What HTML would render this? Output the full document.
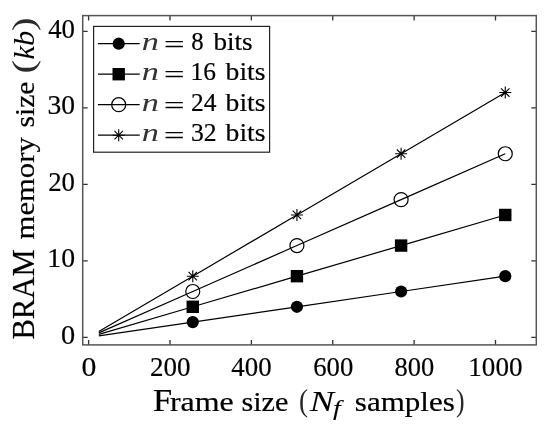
<!DOCTYPE html><html><head><meta charset="utf-8"><style>html,body{margin:0;padding:0;background:#fff;}svg{display:block;}text{font-family:"Liberation Serif",serif;fill:#000;font-kerning:none;stroke:#000;stroke-width:0.2px;}.it{font-style:italic;stroke-width:0.05px;}.th{stroke:none;fill:#2a2a2a;}</style></head><body>
<svg width="550" height="430" viewBox="0 0 550 430">
<rect width="550" height="430" fill="#fff"/>
<path d="M88.60 344.9V339.9M88.60 15.6V20.6M169.98 344.9V339.9M169.98 15.6V20.6M251.36 344.9V339.9M251.36 15.6V20.6M332.74 344.9V339.9M332.74 15.6V20.6M414.12 344.9V339.9M414.12 15.6V20.6M495.50 344.9V339.9M495.50 15.6V20.6M82.7 337.40H87.7M536.3 337.40H531.3M82.7 260.88H87.7M536.3 260.88H531.3M82.7 184.35H87.7M536.3 184.35H531.3M82.7 107.82H87.7M536.3 107.82H531.3M82.7 31.30H87.7M536.3 31.30H531.3" stroke="#333" stroke-width="1.3" fill="none"/>
<rect x="82.7" y="15.6" width="453.60" height="329.30" fill="none" stroke="#555" stroke-width="1.5"/>
<path d="M98.80 335.90 L192.77 322.09 L296.93 306.79 L401.10 291.48 L505.27 276.18" stroke="#000" stroke-width="1.2" fill="none"/>
<path d="M98.80 334.40 L192.77 306.79 L296.93 276.18 L401.10 245.57 L505.27 214.96" stroke="#000" stroke-width="1.2" fill="none"/>
<path d="M98.80 332.90 L192.77 291.48 L296.93 245.57 L401.10 199.65 L505.27 153.74" stroke="#000" stroke-width="1.2" fill="none"/>
<path d="M98.80 331.41 L192.77 276.18 L296.93 214.96 L401.10 153.74 L505.27 92.52" stroke="#000" stroke-width="1.2" fill="none"/>
<circle cx="192.77" cy="322.09" r="6.1" fill="#000"/>
<circle cx="296.93" cy="306.79" r="6.1" fill="#000"/>
<circle cx="401.10" cy="291.48" r="6.1" fill="#000"/>
<circle cx="505.27" cy="276.18" r="6.1" fill="#000"/>
<rect x="186.57" y="300.59" width="12.4" height="12.4" fill="#000"/>
<rect x="290.73" y="269.98" width="12.4" height="12.4" fill="#000"/>
<rect x="394.90" y="239.37" width="12.4" height="12.4" fill="#000"/>
<rect x="499.07" y="208.76" width="12.4" height="12.4" fill="#000"/>
<circle cx="192.77" cy="291.48" r="7.0" fill="none" stroke="#000" stroke-width="1.2"/>
<circle cx="296.93" cy="245.57" r="7.0" fill="none" stroke="#000" stroke-width="1.2"/>
<circle cx="401.10" cy="199.65" r="7.0" fill="none" stroke="#000" stroke-width="1.2"/>
<circle cx="505.27" cy="153.74" r="7.0" fill="none" stroke="#000" stroke-width="1.2"/>
<path d="M186.77 276.18H198.77M192.77 270.18V282.18M188.52 271.94L197.01 280.42M188.52 280.42L197.01 271.94" stroke="#000" stroke-width="1.1" fill="none"/>
<path d="M290.93 214.96H302.93M296.93 208.96V220.96M292.69 210.72L301.18 219.20M292.69 219.20L301.18 210.72" stroke="#000" stroke-width="1.1" fill="none"/>
<path d="M395.10 153.74H407.10M401.10 147.74V159.74M396.86 149.50L405.34 157.98M396.86 157.98L405.34 149.50" stroke="#000" stroke-width="1.1" fill="none"/>
<path d="M499.27 92.52H511.27M505.27 86.52V98.52M501.02 88.28L509.51 96.76M501.02 96.76L509.51 88.28" stroke="#000" stroke-width="1.1" fill="none"/>
<rect x="93.6" y="26.4" width="176" height="125.8" fill="#fff" stroke="#222" stroke-width="1.2"/>
<path d="M97.9 43.70H139.7" stroke="#000" stroke-width="1.2"/>
<circle cx="118.70" cy="43.70" r="6.1" fill="#000"/>
<text x="141.68" y="49.70" font-size="25" class="it" textLength="17.15" lengthAdjust="spacingAndGlyphs" style="fill:#333;stroke:none">n</text>
<text x="164.08" y="52.50" font-size="25" textLength="20.60" lengthAdjust="spacingAndGlyphs">=</text>
<text x="191.16" y="49.70" font-size="25" textLength="12.39" lengthAdjust="spacingAndGlyphs">8</text>
<text x="213.40" y="49.70" font-size="25" textLength="39.18" lengthAdjust="spacingAndGlyphs">bits</text>
<path d="M97.9 74.20H139.7" stroke="#000" stroke-width="1.2"/>
<rect x="112.50" y="68.00" width="12.4" height="12.4" fill="#000"/>
<text x="141.68" y="80.20" font-size="25" class="it" textLength="17.15" lengthAdjust="spacingAndGlyphs" style="fill:#333;stroke:none">n</text>
<text x="164.08" y="83.00" font-size="25" textLength="20.60" lengthAdjust="spacingAndGlyphs">=</text>
<text x="190.47" y="80.20" font-size="25" textLength="25.39" lengthAdjust="spacingAndGlyphs">16</text>
<text x="225.60" y="80.20" font-size="25" textLength="39.90" lengthAdjust="spacingAndGlyphs">bits</text>
<path d="M97.9 104.70H139.7" stroke="#000" stroke-width="1.2"/>
<circle cx="118.70" cy="104.70" r="7.0" fill="none" stroke="#000" stroke-width="1.2"/>
<text x="141.68" y="110.70" font-size="25" class="it" textLength="17.15" lengthAdjust="spacingAndGlyphs" style="fill:#333;stroke:none">n</text>
<text x="164.08" y="113.50" font-size="25" textLength="20.60" lengthAdjust="spacingAndGlyphs">=</text>
<text x="191.08" y="110.70" font-size="25" textLength="25.41" lengthAdjust="spacingAndGlyphs">24</text>
<text x="225.60" y="110.70" font-size="25" textLength="39.90" lengthAdjust="spacingAndGlyphs">bits</text>
<path d="M97.9 135.20H139.7" stroke="#000" stroke-width="1.2"/>
<path d="M112.70 135.20H124.70M118.70 129.20V141.20M114.46 130.96L122.94 139.44M114.46 139.44L122.94 130.96" stroke="#000" stroke-width="1.1" fill="none"/>
<text x="141.68" y="141.20" font-size="25" class="it" textLength="17.15" lengthAdjust="spacingAndGlyphs" style="fill:#333;stroke:none">n</text>
<text x="164.08" y="144.00" font-size="25" textLength="20.60" lengthAdjust="spacingAndGlyphs">=</text>
<text x="190.97" y="141.20" font-size="25" textLength="25.64" lengthAdjust="spacingAndGlyphs">32</text>
<text x="225.60" y="141.20" font-size="25" textLength="39.90" lengthAdjust="spacingAndGlyphs">bits</text>
<text x="81.47" y="376.00" font-size="28" textLength="14.86" lengthAdjust="spacingAndGlyphs">0</text>
<text x="150.01" y="376.00" font-size="28" textLength="40.52" lengthAdjust="spacingAndGlyphs">200</text>
<text x="231.37" y="376.00" font-size="28" textLength="40.35" lengthAdjust="spacingAndGlyphs">400</text>
<text x="313.25" y="376.00" font-size="28" textLength="40.06" lengthAdjust="spacingAndGlyphs">600</text>
<text x="394.49" y="376.00" font-size="28" textLength="39.72" lengthAdjust="spacingAndGlyphs">800</text>
<text x="468.32" y="376.00" font-size="28" textLength="54.21" lengthAdjust="spacingAndGlyphs">1000</text>
<text x="60.92" y="343.70" font-size="28" textLength="14.16" lengthAdjust="spacingAndGlyphs">0</text>
<text x="47.37" y="267.18" font-size="28" textLength="27.69" lengthAdjust="spacingAndGlyphs">10</text>
<text x="48.22" y="190.65" font-size="28" textLength="26.80" lengthAdjust="spacingAndGlyphs">20</text>
<text x="47.48" y="114.12" font-size="28" textLength="27.57" lengthAdjust="spacingAndGlyphs">30</text>
<text x="48.18" y="37.60" font-size="28" textLength="26.85" lengthAdjust="spacingAndGlyphs">40</text>
<text x="152.91" y="410.50" font-size="31" textLength="19.13" lengthAdjust="spacingAndGlyphs">F</text>
<text x="169.96" y="410.50" font-size="27.5" textLength="63.85" lengthAdjust="spacingAndGlyphs">rame</text>
<text x="241.46" y="410.50" font-size="28" textLength="46.88" lengthAdjust="spacingAndGlyphs">size</text>
<text x="299.10" y="410.50" font-size="31" class="th" textLength="9.08" lengthAdjust="spacingAndGlyphs">(</text>
<text x="309.87" y="410.50" font-size="29.6" class="it" textLength="24.25" lengthAdjust="spacingAndGlyphs">N</text>
<text x="333.09" y="415.00" font-size="20.5" class="it" textLength="7.71" lengthAdjust="spacingAndGlyphs">f</text>
<text x="354.83" y="410.50" font-size="28" textLength="99.89" lengthAdjust="spacingAndGlyphs">samples</text>
<text x="456.07" y="410.50" font-size="31" class="th" textLength="8.56" lengthAdjust="spacingAndGlyphs">)</text>
<g transform="translate(33.7 0) rotate(-90)"><text x="-339.58" y="0.00" font-size="31" textLength="90.28" lengthAdjust="spacingAndGlyphs">BRAM</text><text x="-239.44" y="0.00" font-size="28" textLength="102.16" lengthAdjust="spacingAndGlyphs">memory</text><text x="-127.61" y="0.00" font-size="28" textLength="46.04" lengthAdjust="spacingAndGlyphs">size</text><text x="-73.50" y="0.00" font-size="31" class="th" textLength="13.61" lengthAdjust="spacingAndGlyphs">(</text><text x="-59.48" y="0.00" font-size="29.6" class="it" textLength="28.80" lengthAdjust="spacingAndGlyphs">kb</text><text x="-31.10" y="0.00" font-size="31" class="th" textLength="13.48" lengthAdjust="spacingAndGlyphs">)</text></g>
</svg></body></html>
